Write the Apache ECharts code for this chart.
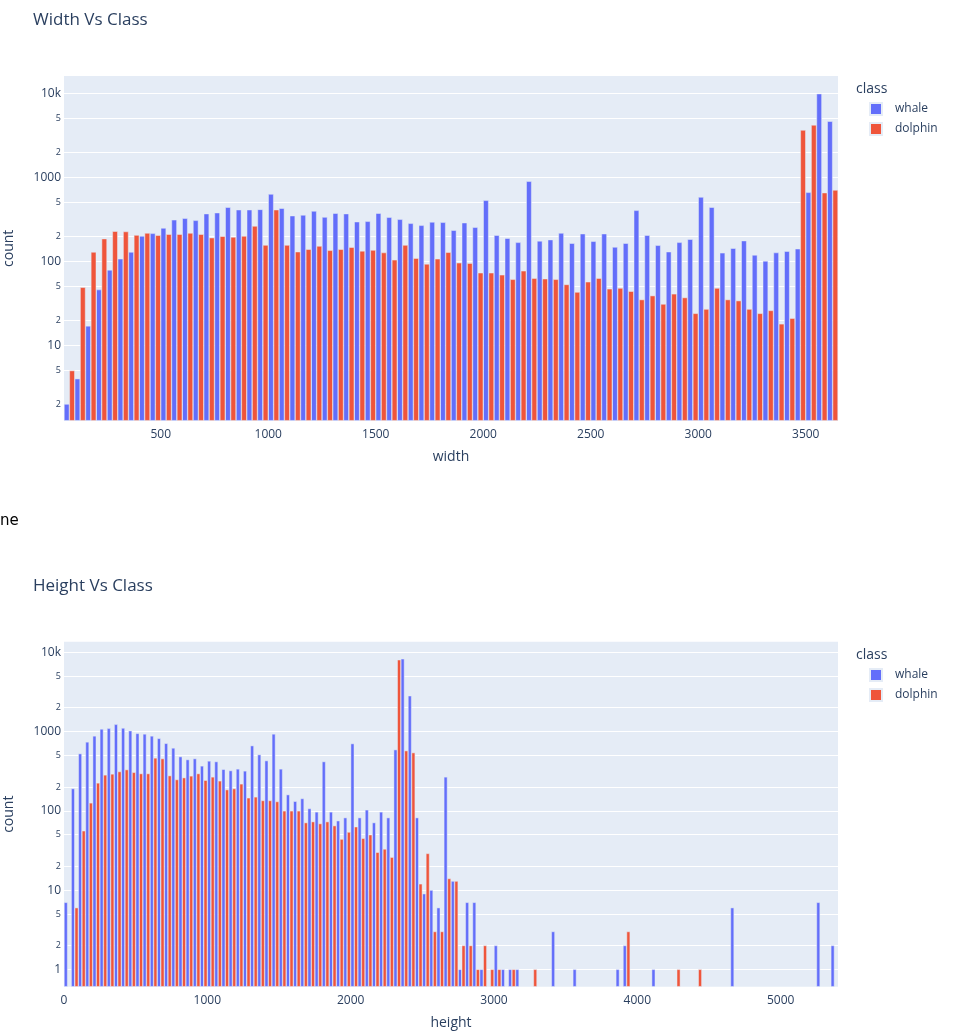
<!DOCTYPE html>
<html>
<head>
<meta charset="utf-8">
<script src="https://cdn.jsdelivr.net/npm/echarts@6/dist/echarts.min.js"></script>
<style>
  html, body { margin: 0; padding: 0; background: #fff; }
  #chart { width: 954px; height: 1035px; }
</style>
</head>
<body>
<div id="chart"></div>
<script>
// histogram bins are 50 wide, listed by their start value

// width histogram: bin starts 50..3600
const widthBins = [50, 100, 150, 200, 250, 300, 350, 400, 450, 500, 550, 600, 650, 700, 750, 800, 850, 900,
  950, 1000, 1050, 1100, 1150, 1200, 1250, 1300, 1350, 1400, 1450, 1500, 1550, 1600, 1650, 1700, 1750, 1800,
  1850, 1900, 1950, 2000, 2050, 2100, 2150, 2200, 2250, 2300, 2350, 2400, 2450, 2500, 2550, 2600, 2650, 2700,
  2750, 2800, 2850, 2900, 2950, 3000, 3050, 3100, 3150, 3200, 3250, 3300, 3350, 3400, 3450, 3500, 3550, 3600];
const widthWhale = [2, 4, 17, 46, 79, 107, 129, 200, 215, 249, 312, 325, 307, 369, 379, 440, 411, 411,
  415, 632, 428, 349, 356, 397, 336, 373, 369, 296, 299, 373, 334, 316, 283, 268, 294, 291,
  234, 288, 254, 532, 204, 188, 168, 896, 175, 181, 217, 164, 213, 173, 213, 148, 164, 404,
  204, 155, 130, 168, 183, 582, 440, 126, 143, 176, 119, 101, 127, 132, 141, 662, 9900, 4645];
const widthDolphin = [5, 49, 129, 186, 228, 226, 205, 217, 204, 210, 210, 217, 210, 191, 199, 195, 200, 263,
  156, 411, 156, 130, 139, 152, 135, 139, 147, 133, 136, 127, 104, 156, 109, 93, 107, 128,
  96, 95, 73, 73, 69, 61, 77, 63, 62, 61, 53, 43, 57, 63, 47, 48, 44, 35,
  39, 31, 41, 37, 24, 27, 48, 35, 34, 27, 24, 26, 18, 21, 3653, 4200, 656, 706];

// height histogram: bin starts 0..5350
const heightBins = [0, 50, 100, 150, 200, 250, 300, 350, 400, 450, 500, 550, 600, 650, 700, 750, 800, 850,
  900, 950, 1000, 1050, 1100, 1150, 1200, 1250, 1300, 1350, 1400, 1450, 1500, 1550, 1600, 1650, 1700, 1750,
  1800, 1850, 1900, 1950, 2000, 2050, 2100, 2150, 2200, 2250, 2300, 2350, 2400, 2450, 2500, 2550, 2600, 2650,
  2700, 2750, 2800, 2850, 2900, 2950, 3000, 3050, 3100, 3150, 3200, 3250, 3300, 3350, 3400, 3450, 3500, 3550,
  3600, 3650, 3700, 3750, 3800, 3850, 3900, 3950, 4000, 4050, 4100, 4150, 4200, 4250, 4300, 4350, 4400, 4450,
  4500, 4550, 4600, 4650, 4700, 4750, 4800, 4850, 4900, 4950, 5000, 5050, 5100, 5150, 5200, 5250, 5300, 5350];
const heightWhale = [7, 191, 527, 740, 881, 1080, 1097, 1232, 1109, 1025, 948, 933, 881, 820, 710, 621, 483, 443,
  456, 369, 426, 418, 334, 322, 338, 319, 664, 512, 430, 933, 338, 160, 132, 143, 107, 97,
  418, 97, 75, 82, 705, 82, 103, 71, 97, 82, 591, 8280, 2830, 82, 9, 10, 6, 268,
  13, 1, 7, 7, 1, null, 2, 1, 1, 1, null, null, null, null, 3, null, null, 1,
  null, null, null, null, null, 1, 2, null, null, null, 1, null, null, null, null, null, null, null,
  null, null, null, 6, null, null, null, null, null, null, null, null, null, null, null, 7, null, 2];
const heightDolphin = [null, 6, 56, 126, 225, 284, 292, 313, 331, 306, 295, 295, 465, 456, 278, 248, 262, 276,
  295, 243, 268, 239, 185, 191, 219, 146, 150, 135, 135, 131, 100, 100, 100, 71, 73, 69,
  73, 65, 44, 54, 63, 45, 50, 30, 33, 26, 8050, 574, 542, 12, 29, 3, 3, 14,
  13, 2, 2, 1, 2, 1, 1, null, 1, null, null, 1, null, null, null, null, null, null,
  null, null, null, null, null, null, 3, null, null, null, null, null, null, 1, null, null, 1, null,
  null, null, null, null, null, null, null, null, null, null, null, null, null, null, null, null, null, null];

const widthTicks = [500, 1000, 1500, 2000, 2500, 3000, 3500];
const heightTicks = [0, 1000, 2000, 3000, 4000, 5000];
const countTicksTop = [2, 5, 10, 20, 50, 100, 200, 500, 1000, 2000, 5000, 10000];
const countTicksBottom = [1, 2, 5, 10, 20, 50, 100, 200, 500, 1000, 2000, 5000, 10000];

const seriesNames = ['whale', 'dolphin'];
const colors = ['#636efa', '#EF553B'];

const FONT = 'Open Sans';
const INK = '#2a3f5f';
const PLOT_BG = '#E5ECF6';

const chart = echarts.init(document.getElementById('chart'), null, { renderer: 'canvas' });

// plotly style log labels: 1, 10, 100, 1000, 10k full size; 2 and 5 small
function countLabel(v) {
  const n = Math.round(v);
  if (n >= 10000) return '{major|' + (n / 1000) + 'k}';
  const lead = String(n)[0];
  if (lead === '1') return '{major|' + n + '}';
  return '{minor|' + lead + '}';
}

// hidden category axis that holds the bins (one band per bin)
function binAxis(gridIndex, bins) {
  return {
    type: 'category', gridIndex, data: bins.map(String), position: 'top',
    boundaryGap: true, show: false
  };
}

// visible value axis for the numeric ticks, same span as the bins
function valueAxis(gridIndex, name, min, max, ticks) {
  return {
    type: 'value', gridIndex, min, max, position: 'bottom',
    name, nameLocation: 'middle', nameGap: 29,
    nameTextStyle: { fontFamily: FONT, fontSize: 14, color: INK },
    axisLine: { show: false },
    axisTick: { show: false, customValues: ticks },
    splitLine: { show: false },
    axisLabel: {
      customValues: ticks, fontFamily: FONT, fontSize: 12, color: INK, margin: 8,
      formatter: v => String(Math.round(v))
    }
  };
}

function yAxisFor(gridIndex, min, max, ticks) {
  return {
    type: 'log', logBase: 10, gridIndex, min, max, startValue: min,
    name: 'count', nameLocation: 'middle', nameGap: 48,
    nameTextStyle: { fontFamily: FONT, fontSize: 14, color: INK },
    axisLine: { show: false },
    axisTick: { show: false, customValues: ticks },
    splitLine: { show: true, lineStyle: { color: '#ffffff', width: 1 } },
    axisLabel: {
      customValues: ticks, margin: 3,
      formatter: countLabel,
      rich: {
        major: { fontFamily: FONT, fontSize: 12, color: INK },
        minor: { fontFamily: FONT, fontSize: 9, color: INK }
      }
    }
  };
}

function barSeries(name, xi, yi, counts, color) {
  return {
    type: 'bar', name, xAxisIndex: xi, yAxisIndex: yi,
    data: counts,
    barGap: '0%', barCategoryGap: '0%',
    itemStyle: { color, borderColor: PLOT_BG, borderWidth: 0.5 },
    clip: true
  };
}

function legendFor(top) {
  return {
    data: seriesNames, orient: 'vertical', left: 869, top,
    itemWidth: 12, itemHeight: 12, itemGap: 6, padding: 0,
    icon: 'rect',
    textStyle: { fontFamily: FONT, fontSize: 12, color: INK, padding: [0, 0, 0, 8] }
  };
}

function gridAt(top, height) {
  return {
    left: 64, top, width: 774, height,
    show: true, backgroundColor: PLOT_BG, borderWidth: 0,
    containLabel: false, outerBoundsMode: 'none'
  };
}

const option = {
  animation: false,
  color: colors,
  textStyle: { fontFamily: FONT },
  title: [
    { text: 'Width Vs Class', left: 33, top: 12, padding: 0,
      textStyle: { fontFamily: FONT, fontSize: 17, fontWeight: 'normal', color: INK } },
    { text: 'Height Vs Class', left: 33, top: 578, padding: 0,
      textStyle: { fontFamily: FONT, fontSize: 17, fontWeight: 'normal', color: INK } }
  ],
  legend: [legendFor(102), legendFor(668)],
  grid: [gridAt(76, 344.7), gridAt(641.7, 345)],
  xAxis: [
    binAxis(0, widthBins),
    valueAxis(0, 'width', 50, 3650, widthTicks),
    binAxis(1, heightBins),
    valueAxis(1, 'height', 0, 5400, heightTicks)
  ],
  yAxis: [
    yAxisFor(0, 1.265, 16070, countTicksTop),
    yAxisFor(1, 0.604, 13600, countTicksBottom)
  ],
  series: [
    barSeries('whale', 0, 0, widthWhale, colors[0]),
    barSeries('dolphin', 0, 0, widthDolphin, colors[1]),
    barSeries('whale', 2, 1, heightWhale, colors[0]),
    barSeries('dolphin', 2, 1, heightDolphin, colors[1])
  ],
  graphic: [
    { type: 'text', left: 856, top: 82, style: { text: 'class', font: '14px "Open Sans"', fill: INK } },
    { type: 'text', left: 856, top: 648, style: { text: 'class', font: '14px "Open Sans"', fill: INK } },
    { type: 'text', left: 0, top: 514, style: { text: 'ne', font: '15px "DejaVu Sans"', fill: '#000' } }
  ]
};

chart.setOption(option);
</script>
</body>
</html>
